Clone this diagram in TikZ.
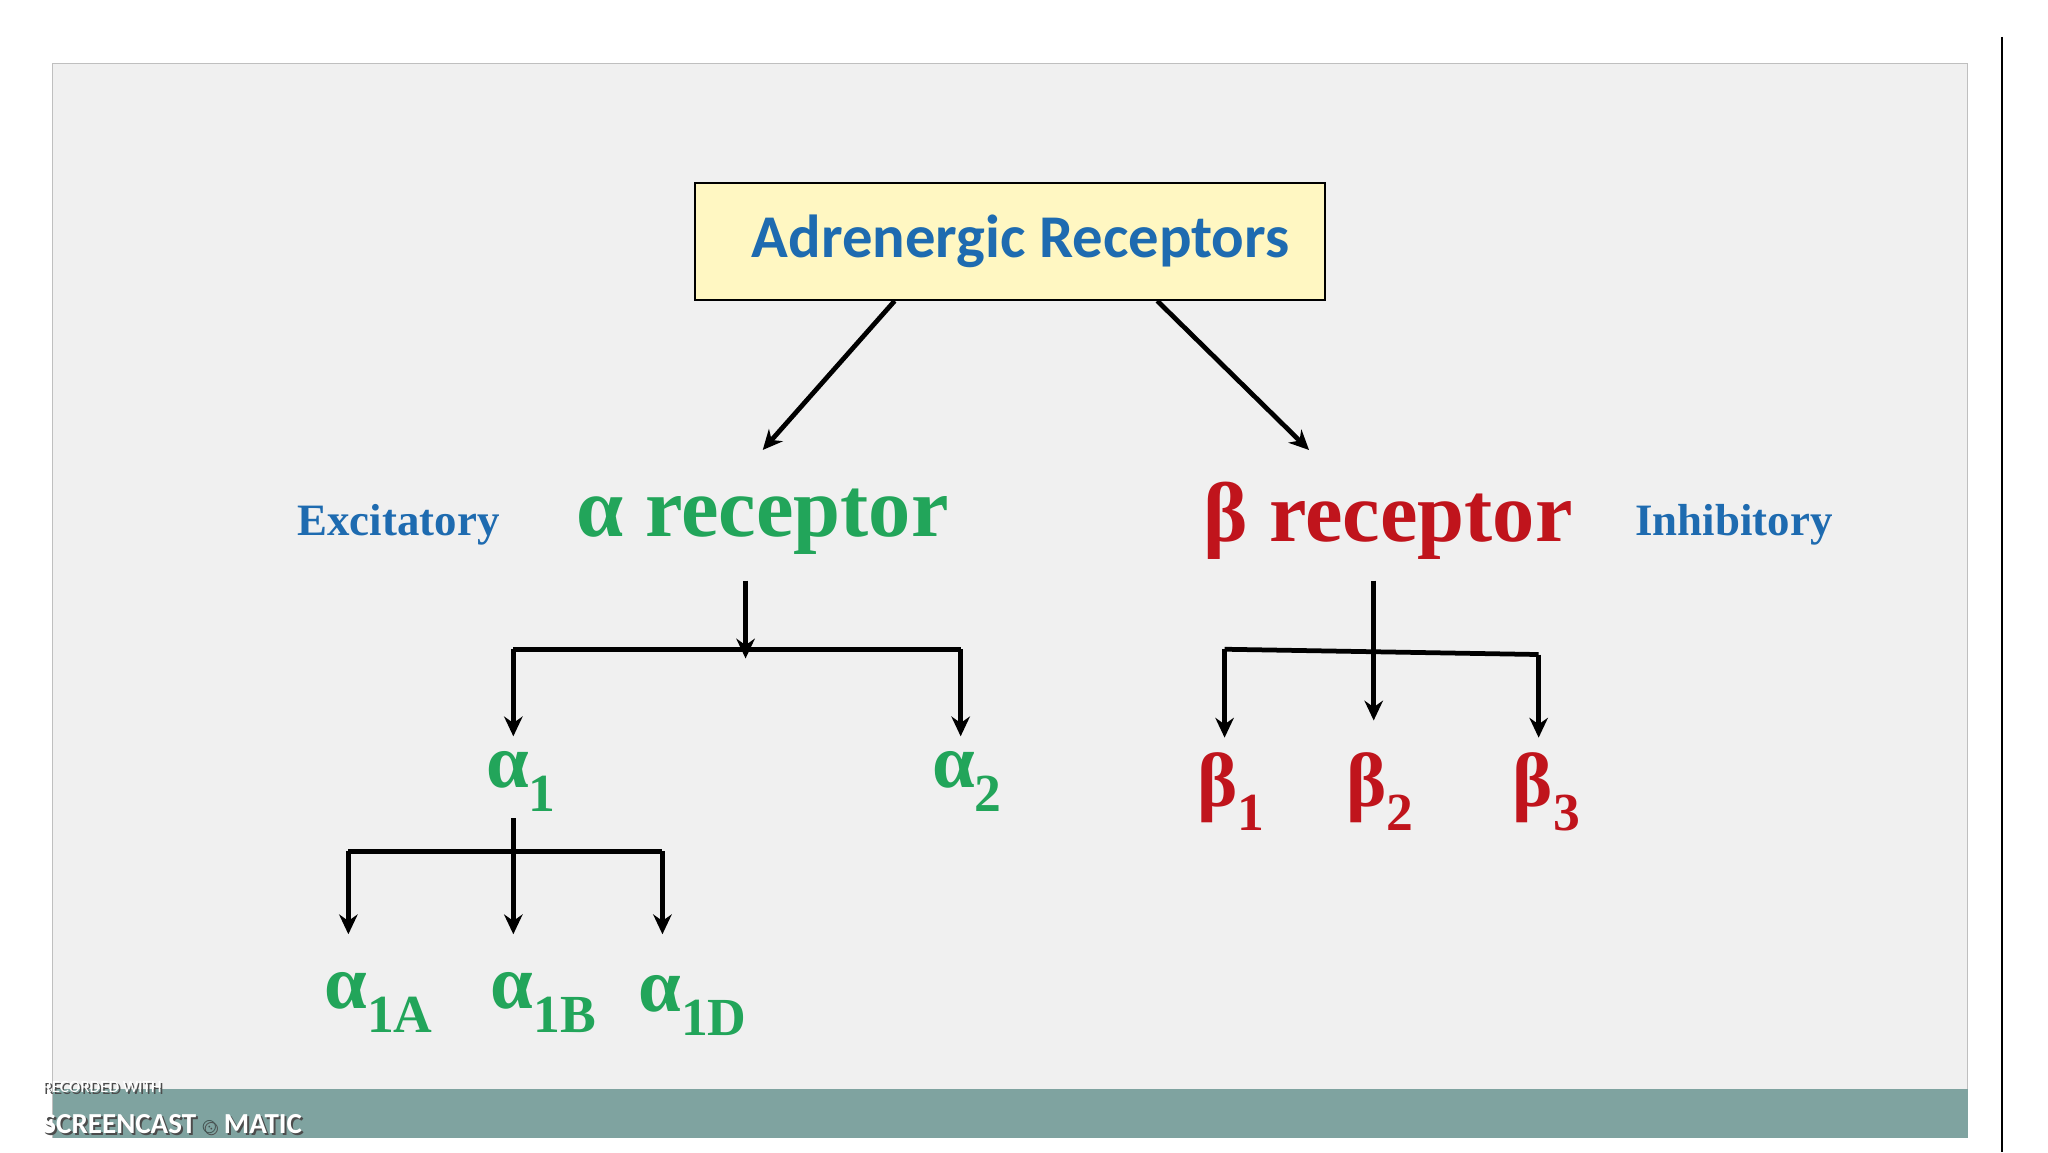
\documentclass[tikz,border=0pt]{standalone}
\usepackage{fontspec}
\setmainfont{Liberation Serif}
\newfontfamily\calib{Carlito}
\usetikzlibrary{arrows.meta}
\definecolor{panel}{HTML}{F0F0F0}
\definecolor{bar}{HTML}{7FA3A0}
\definecolor{boxy}{HTML}{FFF7C2}
\definecolor{tblue}{HTML}{1E6BB0}
\definecolor{tgreen}{HTML}{22A55A}
\definecolor{tred}{HTML}{C0141C}
\begin{document}
\begin{tikzpicture}[x=1pt,y=-1pt,
  arr/.style={line width=3.6pt,-{Stealth[length=15pt,width=14pt]}},
  ln/.style={line width=3.6pt},
  side/.style={font=\fontsize{34}{34}\selectfont\bfseries,text=tblue},
  big/.style={font=\fontsize{64}{64}\selectfont\bfseries},
  sub/.style={font=\fontsize{58}{58}\selectfont\bfseries,text=tgreen},
  bsub/.style={font=\fontsize{58}{58}\selectfont\bfseries,text=tred},
  wm/.style={anchor=west,inner sep=0pt,font=\calib\bfseries\fontsize{22}{22}\selectfont},
  wms/.style={anchor=west,inner sep=0pt,font=\calib\fontsize{13}{13}\selectfont}]
\useasboundingbox[fill=white] (0,0) rectangle (1552,873);
\fill[panel,draw=black!25,line width=1pt] (40,48) rectangle (1491,862);
\fill[bar] (40,825) rectangle (1491,862);
\draw[line width=1.5pt] (1517,28) -- (1517,873);
\node[wms,text=black!70] (rws) at (33.5,825.5) {RECORDED WITH};
\node[wms,text=white] (rw) at (32,824) {RECORDED WITH};
\node[wm,text=black!70] (scs) at (33.5,853.5) {SCREENCAST \textcolor{black!70}{$\bigodot$} MATIC};
\node[wm,text=white] (sc) at (32,852) {SCREENCAST \textcolor{bar!50!black}{$\bigodot$} MATIC};

\node[draw=black,line width=1.5pt,fill=boxy,minimum width=477pt,minimum height=88pt,
  font=\calib\bfseries\fontsize{46}{46}\selectfont,text=tblue] (top) at (765.5,183) {\hspace{16pt}Adrenergic Receptors};
\coordinate (tl) at (678,228); \coordinate (tr) at (877,228);

\node[side] (exc) at (302,398) {Excitatory};
\node[side] (inh) at (1314,398) {Inhibitory};
\node[big,text=tgreen] (ar) at (578,395) {α receptor};
\node[big,text=tred] (br) at (1052,395) {β receptor};
\draw[arr] (tl) -- (578,341);
\draw[arr] (tr) -- (992,341);

\node[sub] (a1) at (395,592) {α\textsubscript{1}};
\node[sub] (a2) at (733,592) {α\textsubscript{2}};
\coordinate (as) at (565,440);
\coordinate (al) at (389,492); \coordinate (arr) at (728,492);
\draw[arr] (as) -- (565,499);
\draw[ln] (al) -- (arr);
\draw[arr] (al) -- (389,558);
\draw[arr] (arr) -- (728,558);

\node[sub] (a1a) at (287,760) {α\textsubscript{1A}};
\node[sub] (a1b) at (412,760) {α\textsubscript{1B}};
\node[sub] (a1d) at (525,762) {α\textsubscript{1D}};
\coordinate (s1) at (389,620); \coordinate (l1) at (264,645); \coordinate (r1) at (502,645);
\draw[ln] (l1) -- (r1);
\draw[arr] (s1) -- (389,708);
\draw[arr] (l1) -- (264,708);
\draw[arr] (r1) -- (502,708);

\node[bsub] (b1) at (933,600) {β\textsubscript{1}};
\node[bsub] (b2) at (1046,600) {β\textsubscript{2}};
\node[bsub] (b3) at (1172,600) {β\textsubscript{3}};
\coordinate (bs) at (1041,440); \coordinate (bl) at (928,492); \coordinate (bR) at (1166,496);
\draw[ln] (bl) -- (bR);
\draw[arr] (bs) -- (1041,546);
\draw[arr] (bl) -- (928,559);
\draw[arr] (bR) -- (1166,559);
\end{tikzpicture}
\end{document}
